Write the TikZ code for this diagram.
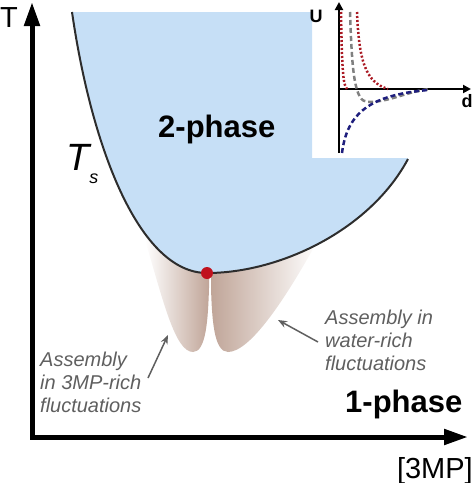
\documentclass[tikz,border=0pt]{standalone}
\usepackage{fontspec}
\setmainfont{Liberation Sans}
\usetikzlibrary{arrows.meta, positioning, calc}

\definecolor{phaseblue}{RGB}{198,223,246}
\definecolor{fluctbrown}{RGB}{192,165,152}
\definecolor{critred}{RGB}{192,18,30}
\definecolor{curvegray}{RGB}{45,45,45}
\definecolor{notegray}{RGB}{95,95,95}
\definecolor{ljred}{RGB}{170,25,35}
\definecolor{ljgray}{RGB}{128,128,128}
\definecolor{ljblue}{RGB}{30,30,125}

\begin{document}
\begin{tikzpicture}[x=1pt, y=-1pt]
% styles
\tikzstyle{axis} = [draw, line width=5pt, line cap=rect, -{Triangle[length=24pt, width=15pt]}]
\tikzstyle{smallaxis} = [draw, line width=2.5pt, -{Triangle[length=8pt, width=8pt]}]
\tikzstyle{tscurve} = [draw=curvegray, line width=2pt]
\tikzstyle{note} = [inner sep=0pt, align=left, text=notegray, font=\fontsize{20}{23}\selectfont\itshape]
\tikzstyle{notearrow} = [draw=notegray, line width=1.5pt, -{Stealth[length=9pt, width=7pt]}]
\tikzstyle{phase} = [inner sep=0pt, font=\fontsize{31}{31}\selectfont\bfseries]
\tikzstyle{axislabel} = [inner sep=0pt, font=\fontsize{29}{29}\selectfont]

\useasboundingbox (0,0) rectangle (474,483);

% fluctuations below the critical point
\shade[left color=white, right color=fluctbrown] (145,240) .. controls (163,300) and (175,352) .. (193,352) .. controls (206,352) and (208,320) .. (209,288) -- (209,240) -- cycle;
\shade[left color=fluctbrown, right color=white] (211,240) -- (211,288) .. controls (212,320) and (214,352) .. (228,352) .. controls (250,352) and (285,300) .. (318,240) -- cycle;

% two-phase region
\fill[phaseblue] (72,12) -- (312,12) -- (312,158) -- (408,158) .. controls (370,230) and (280,273) .. (207,273) .. controls (140,273) and (92,150) .. (72,12) -- cycle;
\draw[tscurve] (72,12) .. controls (92,150) and (140,273) .. (207,273) .. controls (280,273) and (370,230) .. (408,159);
\node[circle, fill=critred, inner sep=0pt, minimum size=12pt] (cp) at (207,273) {};

% axes
\coordinate (origin) at (32,437);
\coordinate (yend) at (32,2);
\coordinate (xend) at (468,437);
\draw[axis] (origin) -- (yend);
\draw[axis] (origin) -- (xend);
\node[axislabel, anchor=base] (tlabel) at (9,27) {T};
\node[axislabel, anchor=base east] (xlabel) at (473,478) {[3MP]};

% labels
\node[phase, anchor=base west] (twophase) at (158,137) {2-phase};
\node[phase, anchor=base west] (onephase) at (345,412) {1-phase};
\node[inner sep=0pt, anchor=base west] (ts) at (66,170) {\fontsize{38}{38}\selectfont\itshape T\raisebox{-13pt}{\fontsize{18}{18}\selectfont s}};

\node[note, anchor=north west] (leftnote) at (40,352) {Assembly\\in 3MP-rich\\fluctuations};
\node[note, anchor=north west] (rightnote) at (325,310) {Assembly in\\water-rich\\fluctuations};
\coordinate (lfrom) at (148,378);
\coordinate (lto) at (168,335);
\coordinate (rfrom) at (318,342);
\coordinate (rto) at (278,320);
\draw[notearrow] (lfrom) -- (lto);
\draw[notearrow] (rfrom) -- (rto);

% inset: pair potential
\coordinate (uo) at (339,89);
\coordinate (ubot) at (339,153);
\coordinate (utop) at (339,2);
\coordinate (dend) at (471,89);
\draw[smallaxis] (ubot) -- (utop);
\draw[smallaxis] (uo) -- (dend);
\node[inner sep=0pt, font=\fontsize{18}{18}\selectfont\bfseries, anchor=base] (ulabel) at (316,22) {U};
\node[inner sep=0pt, font=\fontsize{18}{18}\selectfont\bfseries, anchor=base] (dlabel) at (467,107) {d};

\draw[ljred, line width=2.5pt, dash pattern=on 2pt off 2pt] (341,12) .. controls (342,70) and (343,85) .. (347,89);
\draw[ljred, line width=2.5pt, dash pattern=on 2pt off 2pt] (357,12) .. controls (359,60) and (365,82) .. (388,89);
\draw[ljgray, line width=2.5pt, dash pattern=on 5pt off 3pt] (350,12) .. controls (352,70) and (354,102) .. (368,102) .. controls (390,102) and (405,92) .. (430,89);
\draw[ljblue, line width=2.5pt, dash pattern=on 5pt off 3pt] (342,153) .. controls (347,113) and (370,95) .. (428,90);
\end{tikzpicture}
\end{document}
